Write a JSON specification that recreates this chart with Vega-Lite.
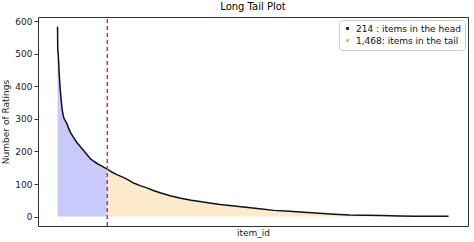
{
"$schema":"https://vega.github.io/schema/vega-lite/v6.json",
"width":430,"height":209,
"autosize":{"type":"none"},
"padding":{"left":38,"top":17,"right":6,"bottom":16},
"title":{"text":"Long Tail Plot","fontSize":10,"font":"DejaVu Sans","fontWeight":"normal","color":"#000","offset":4},
"config":{"view":{"stroke":"#333","strokeWidth":1},"font":"DejaVu Sans"},
"datasets":{
"curve":[
{"item":0,"ratings":583,"part":"head"},{"item":1,"ratings":509,"part":"head"},{"item":3,"ratings":500,"part":"head"},{"item":5,"ratings":470,"part":"head"},{"item":7,"ratings":440,"part":"head"},{"item":10,"ratings":406,"part":"head"},{"item":13,"ratings":378,"part":"head"},{"item":16,"ratings":355,"part":"head"},{"item":20,"ratings":328,"part":"head"},{"item":24,"ratings":312,"part":"head"},{"item":28,"ratings":301,"part":"head"},{"item":33,"ratings":295,"part":"head"},{"item":41,"ratings":284,"part":"head"},{"item":48,"ratings":270,"part":"head"},{"item":56,"ratings":258,"part":"head"},{"item":66,"ratings":246,"part":"head"},{"item":76,"ratings":235,"part":"head"},{"item":86,"ratings":225,"part":"head"},{"item":100,"ratings":213,"part":"head"},{"item":113,"ratings":202,"part":"head"},{"item":127,"ratings":190,"part":"head"},{"item":141,"ratings":178,"part":"head"},{"item":155,"ratings":170,"part":"head"},{"item":170,"ratings":163,"part":"head"},{"item":185,"ratings":157,"part":"head"},{"item":200,"ratings":151,"part":"head"},{"item":214,"ratings":146,"part":"head"},
{"item":214,"ratings":146,"part":"tail"},{"item":235,"ratings":136,"part":"tail"},{"item":255,"ratings":129,"part":"tail"},{"item":280,"ratings":121,"part":"tail"},{"item":298,"ratings":115,"part":"tail"},{"item":327,"ratings":103,"part":"tail"},{"item":355,"ratings":95,"part":"tail"},{"item":384,"ratings":88,"part":"tail"},{"item":412,"ratings":80,"part":"tail"},{"item":441,"ratings":73,"part":"tail"},{"item":484,"ratings":64,"part":"tail"},{"item":530,"ratings":56,"part":"tail"},{"item":575,"ratings":50,"part":"tail"},{"item":612,"ratings":46,"part":"tail"},{"item":660,"ratings":41,"part":"tail"},{"item":700,"ratings":37,"part":"tail"},{"item":740,"ratings":34,"part":"tail"},{"item":800,"ratings":29,"part":"tail"},{"item":869,"ratings":24,"part":"tail"},{"item":930,"ratings":19,"part":"tail"},{"item":997,"ratings":16,"part":"tail"},{"item":1060,"ratings":13,"part":"tail"},{"item":1126,"ratings":10,"part":"tail"},{"item":1190,"ratings":7,"part":"tail"},{"item":1254,"ratings":5,"part":"tail"},{"item":1320,"ratings":4,"part":"tail"},{"item":1395,"ratings":3,"part":"tail"},{"item":1470,"ratings":2,"part":"tail"},{"item":1540,"ratings":1,"part":"tail"},{"item":1610,"ratings":1,"part":"tail"},{"item":1681,"ratings":1,"part":"tail"}
],
"legend":[{"label":"214 : items in the head","item":0,"ratings":0},{"label":"1,468: items in the tail","item":0,"ratings":0}],
"split":[{"item":214,"lo":-29,"hi":613}]
},
"encoding":{
  "x":{"field":"item","type":"quantitative","scale":{"domain":[-84,1765],"nice":false,"zero":false},"axis":{"title":"item_id","labels":false,"ticks":false,"domain":false,"grid":false,"titleFontSize":9,"titleFontWeight":"normal","titlePadding":2,"titleColor":"#222"}},
  "y":{"field":"ratings","type":"quantitative","scale":{"domain":[-29,613],"nice":false,"zero":false},"axis":{"title":"Number of Ratings","values":[0,100,200,300,400,500,600],"tickCount":7,"labelOverlap":false,"grid":false,"domain":false,"tickSize":4,"tickColor":"#333","labelFontSize":9,"labelColor":"#222","labelPadding":2,"titleFontSize":9,"titleFontWeight":"normal","titlePadding":4,"titleColor":"#222"}}
},
"layer":[
{"data":{"name":"curve"},"transform":[{"filter":"datum.part=='head'"}],
 "mark":{"type":"area","color":"#c9c9fb","opacity":1},
 "encoding":{"y2":{"datum":0}}},
{"data":{"name":"curve"},"transform":[{"filter":"datum.part=='tail'"}],
 "mark":{"type":"area","color":"#fdeacb","opacity":1},
 "encoding":{"y2":{"datum":0}}},
{"data":{"name":"curve"},
 "mark":{"type":"line","color":"#111","strokeWidth":1.5},
 "encoding":{}},
{"data":{"name":"split"},
 "mark":{"type":"rule","color":"#c0393b","strokeDash":[4,3],"strokeWidth":1.5},
 "encoding":{"y":{"field":"lo","type":"quantitative"},"y2":{"field":"hi"}}},
{"data":{"name":"legend"},
 "mark":{"type":"point","filled":true,"opacity":0},
 "encoding":{
  "color":{"field":"label","type":"nominal","scale":{"domain":["214 : items in the head","1,468: items in the tail"],"range":["#1c1c8f","#f2b94d"]},
   "legend":{"orient":"top-right","title":null,"symbolOpacity":1,"symbolSize":12,"symbolType":"circle","labelFontSize":9,"labelColor":"#111","fillColor":"#fff","strokeColor":"#ccc","padding":4,"cornerRadius":3,"offset":3,"rowPadding":2}}}}
]
}
